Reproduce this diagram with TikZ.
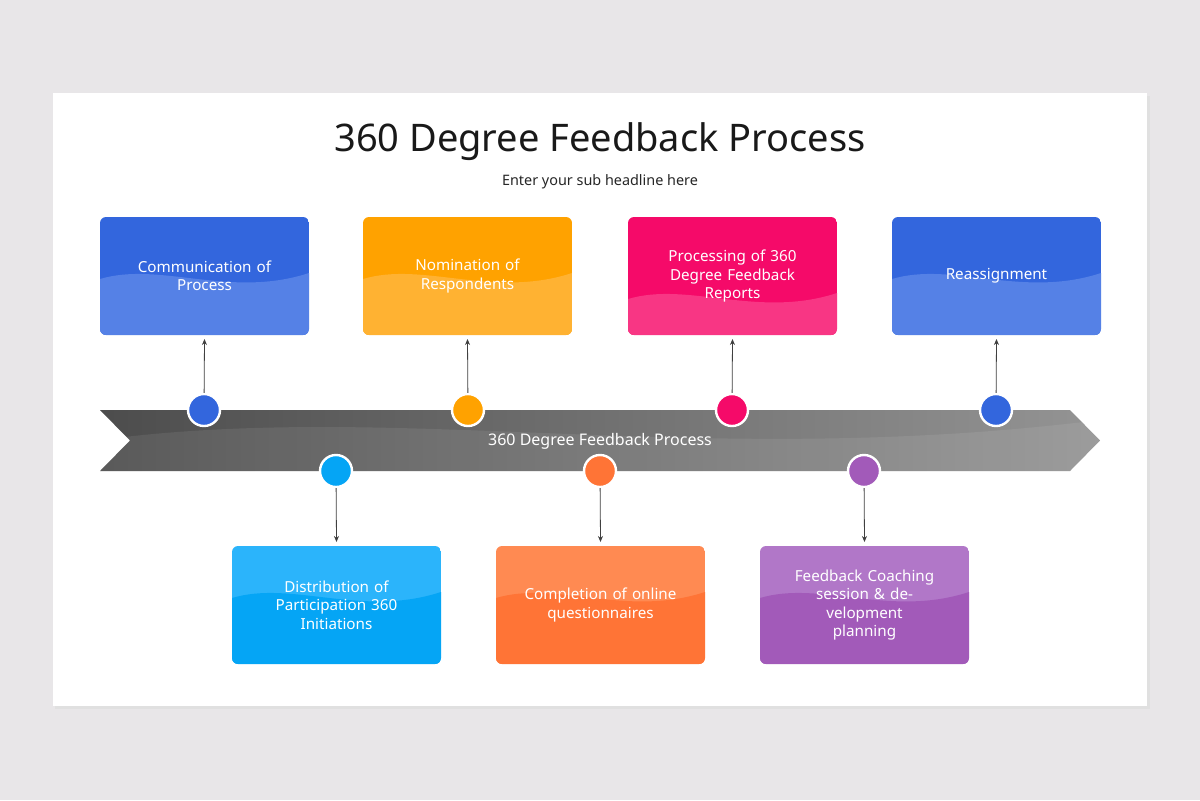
\documentclass[tikz,border=0pt]{standalone}
\usepackage{fontspec}
\setmainfont{Noto Sans}
\usetikzlibrary{arrows.meta}
\definecolor{bg}{HTML}{E8E6E8}
\definecolor{bA}{HTML}{3366DD}\definecolor{bB}{HTML}{5581E6}
\definecolor{oA}{HTML}{FFA200}\definecolor{oB}{HTML}{FFB232}
\definecolor{pA}{HTML}{F50A69}\definecolor{pB}{HTML}{F83684}
\definecolor{cA}{HTML}{2BB4FB}\definecolor{cB}{HTML}{05A5F5}
\definecolor{rA}{HTML}{FF8A52}\definecolor{rB}{HTML}{FF7436}
\definecolor{vA}{HTML}{B177C8}\definecolor{vB}{HTML}{A25AB9}
\tikzset{boxtxt/.style={text=white,font=\fontsize{7.6}{9.2}\selectfont,align=center,text width=80pt},
 dot/.style={circle,draw=white,line width=1.2pt,minimum size=16pt,inner sep=0pt},
 conn/.style={-{Stealth[length=3pt,width=2.5pt]},draw=black!75,line width=0.4pt}}
\newcommand{\wbox}[7]{% name x y topcol botcol text
 \begin{scope}
 \clip[rounded corners=3pt] (#2,#3) rectangle ++(209,118);
 \fill[#4] (#2,#3) rectangle ++(209,118);
 \fill[#5] (#2,#3+#7) .. controls (#2+60,#3+#7-18) and (#2+130,#3+#7+20) .. (#2+209,#3+#7-6) -- (#2+209,#3+118) -- (#2,#3+118) -- cycle;
 \end{scope}
 \node[boxtxt] (#1) at (#2+104.5,#3+59) {#6};
 \coordinate (#1t) at (#2+104.5,#3);
 \coordinate (#1b) at (#2+104.5,#3+118);}
\begin{document}
\begin{tikzpicture}[x=0.5pt,y=-0.5pt]
\fill[bg] (0,0) rectangle (1200,800);
\fill[black!12] (55,96) rectangle (1150,709);
\fill[white] (53,93) rectangle (1147,706);
\node[font=\fontsize{19}{22}\selectfont,text=black!90] (title) at (600,142) {360 Degree Feedback Process};
\node[font=\fontsize{7.2}{9}\selectfont,text=black!85] (sub) at (600,182) {Enter your sub headline here};
% band
\shade[left color=black!70,right color=black!42] (100,410) -- (1070,410) -- (1100,440.5) -- (1070,471) -- (100,471) -- (130,440.5) -- cycle;
\begin{scope}
\clip (100,410) -- (1070,410) -- (1100,440.5) -- (1070,471) -- (100,471) -- (130,440.5) -- cycle;
\fill[white,opacity=0.08] (100,440) .. controls (400,400) and (700,470) .. (1100,420) -- (1100,471) -- (100,471) -- cycle;
\end{scope}
\node[text=white,font=\bfseries\fontsize{8}{10}\selectfont] (band) at (600,441) {360 Degree Feedback Process};
% top boxes
\wbox{t1}{100}{217}{bA}{bB}{Communication of\\Process}{62}
\wbox{t2}{363}{217}{oA}{oB}{Nomination of\\Respondents}{62}
\wbox{t3}{628}{217}{pA}{pB}{Processing of 360\\Degree Feedback\\Reports}{82}
\wbox{t4}{892}{217}{bA}{bB}{Reassignment}{62}
\wbox{b1}{232}{546}{cA}{cB}{Distribution of\\Participation 360\\Initiations}{52}
\wbox{b2}{496}{546}{rA}{rB}{Completion of online\\questionnaires}{52}
\wbox{b3}{760}{546}{vA}{vB}{Feedback Coaching\\session \& development\\planning}{52}
% dots
\node[dot,fill=bA] (d1) at (204,410) {};
\node[dot,fill=oA] (d2) at (468,410) {};
\node[dot,fill=pA] (d3) at (732,410) {};
\node[dot,fill=bA] (d4) at (996,410) {};
\node[dot,fill=cB] (e1) at (336,471) {};
\node[dot,fill=rB] (e2) at (600,471) {};
\node[dot,fill=vB] (e3) at (864,471) {};
\draw[conn] (d1) -- ([yshift=-2pt]t1b);
\draw[conn] (d2) -- ([yshift=-2pt]t2b);
\draw[conn] (d3) -- ([yshift=-2pt]t3b);
\draw[conn] (d4) -- ([yshift=-2pt]t4b);
\draw[conn] (e1) -- ([yshift=2pt]b1t);
\draw[conn] (e2) -- ([yshift=2pt]b2t);
\draw[conn] (e3) -- ([yshift=2pt]b3t);
\end{tikzpicture}
\end{document}
